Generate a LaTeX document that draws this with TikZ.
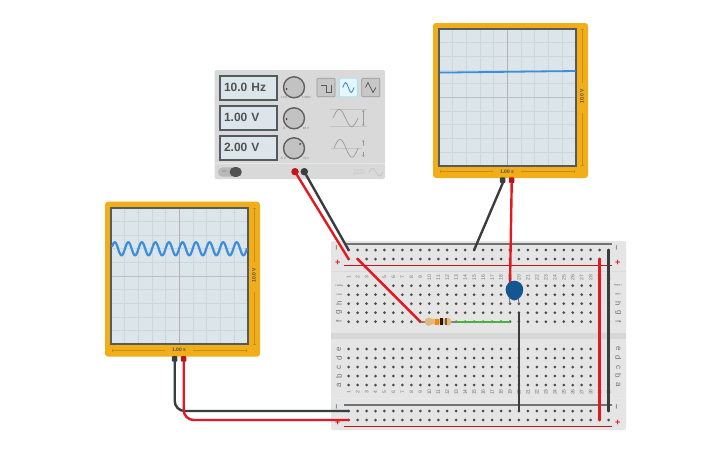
\documentclass[tikz,border=0pt]{standalone}
\usepackage{fontspec}
\setmainfont{Liberation Sans}
\usetikzlibrary{shapes, arrows.meta, positioning, matrix, calc}
\definecolor{scopeorange}{HTML}{F2AE18}
\definecolor{scopedim}{HTML}{C48E14}
\definecolor{screenblue}{HTML}{DCE6EA}
\definecolor{screenline}{HTML}{CDD7DB}
\definecolor{framegray}{HTML}{525C60}
\definecolor{tracecolor}{HTML}{3B8EDE}
\definecolor{wirered}{HTML}{E3191F}
\definecolor{wireblack}{HTML}{3A3D3F}
\definecolor{wiregreen}{HTML}{45B53F}
\definecolor{boardgray}{HTML}{E5E5E5}
\definecolor{capblue}{HTML}{14568F}
\definecolor{resistortan}{HTML}{DDBB7C}

\begin{document}
\begin{tikzpicture}[
		x=1pt,y=-1pt,
		holes/.style={
				matrix of nodes,
				inner sep=0pt,
				column sep=5.966pt,
				row sep=6pt,
				nodes={circle,fill=black!70,inner sep=0pt,minimum size=3pt},
				nodes in empty cells,
			},
		redwire/.style={draw=wirered,line width=2.4pt,line cap=round},
		blackwire/.style={draw=wireblack,line width=2.4pt,line cap=round},
		boardlabel/.style={text=black!55,font=\fontsize{5}{5}\selectfont,inner sep=0pt},
		lcd/.style={draw=framegray,line width=2pt,fill=screenblue,minimum width=56.5pt,minimum height=24pt,inner sep=0pt,
				text=black!68,font=\fontsize{12}{12}\selectfont\bfseries,text width=48.5pt,align=left},
		knob/.style={circle,draw=black!62,line width=1.4pt,fill=black!24,minimum size=21pt,inner sep=0pt},
		knobdot/.style={circle,fill=black!75,minimum size=2pt,inner sep=0pt},
		ticklabel/.style={text=black!55,font=\fontsize{3}{3}\selectfont,inner sep=0pt},
		wavebutton/.style={rounded corners=1pt,draw=black!40,line width=.7pt,fill=black!22,minimum width=18pt,minimum height=18.5pt,inner sep=0pt},
		scopepin/.style={rounded corners=.8pt,minimum width=5.5pt,minimum height=5.5pt,inner sep=0pt},
		dimline/.style={draw=scopedim,line width=.6pt},
		oscope/.pic={
			\fill[scopeorange,rounded corners=3pt] (0,0) rectangle (155,155);
			\node[draw=framegray,line width=2pt,fill=screenblue,minimum size=136.7pt,inner sep=0pt] (-screen) at (74.35,74.35) {};
			\foreach \k in {1,2,3,4,6,7,8,9} {
				\draw[screenline,line width=.6pt] ({6+13.67*\k},7) -- ({6+13.67*\k},141.7);
				\draw[screenline,line width=.6pt] (7,{6+13.67*\k}) -- (141.7,{6+13.67*\k});
			}
			\draw[black!30,line width=.9pt] (74.35,7) -- (74.35,141.7);
			\draw[screenline!90!black,line width=.8pt] (7,74.35) -- (141.7,74.35);
			\node[rotate=90,text=black!70,font=\fontsize{5}{5}\selectfont\bfseries,inner sep=0pt] (-vlabel) at (149,73.5) {10.0 V};
			\node[text=black!70,font=\fontsize{5}{5}\selectfont\bfseries,inner sep=0pt] (-slabel) at (74,148.3) {1.00 s};
			\draw[dimline,{Bar[width=3pt]}-] (149,6) -- (149,60);
			\draw[dimline,-{Bar[width=3pt]}] (149,90) -- (149,142.7);
			\draw[dimline,{Bar[width=3pt]}-] (7,148.3) -- (60,148.3);
			\draw[dimline,-{Bar[width=3pt]}] (88,148.3) -- (142,148.3);
			\node[scopepin,fill=wireblack] (-blackpin) at (69.7,157.2) {};
			\node[scopepin,fill=wirered!80!black] (-redpin) at (78.7,157.2) {};
		}
	]
	\useasboundingbox (0,0) rectangle (725,453);
	\fill[white] (0,0) rectangle (725,453);

	\fill[boardgray,rounded corners=2pt] (331,241) rectangle (626,430);
	\fill[black!14] (331,271) rectangle (626,272);
	\fill[black!9] (331,397.5) rectangle (626,398.5);
	\fill[black!16] (331,333) rectangle (626,339);

	\draw[black!55,line width=1.2pt] (344,244) -- (612,244);
	\draw[wirered!85!black,line width=.9pt] (344,265.3) -- (612,265.3);
	\draw[black!55,line width=1.2pt] (344,405) -- (612,405);
	\draw[wirered!85!black,line width=.9pt] (344,426.7) -- (612,426.7);

	\matrix[holes] (toprail) at (478.6,254.5) {
		& & & & & & & & & & & & & & & & & & & & & & & & & & & & & \\
		& & & & & & & & & & & & & & & & & & & & & & & & & & & & & \\
	};
	\matrix[holes] (upper) at (478.6,303.7) {
		& & & & & & & & & & & & & & & & & & & & & & & & & & & & & \\
		& & & & & & & & & & & & & & & & & & & & & & & & & & & & & \\
		& & & & & & & & & & & & & & & & & & & & & & & & & & & & & \\
		& & & & & & & & & & & & & & & & & & & & & & & & & & & & & \\
		& & & & & & & & & & & & & & & & & & & & & & & & & & & & & \\
	};
	\matrix[holes] (lower) at (478.6,367) {
		& & & & & & & & & & & & & & & & & & & & & & & & & & & & & \\
		& & & & & & & & & & & & & & & & & & & & & & & & & & & & & \\
		& & & & & & & & & & & & & & & & & & & & & & & & & & & & & \\
		& & & & & & & & & & & & & & & & & & & & & & & & & & & & & \\
		& & & & & & & & & & & & & & & & & & & & & & & & & & & & & \\
	};
	\matrix[holes] (botrail) at (478.6,415.5) {
		& & & & & & & & & & & & & & & & & & & & & & & & & & & & & \\
		& & & & & & & & & & & & & & & & & & & & & & & & & & & & & \\
	};

	\foreach \c in {1,...,30} {
		\node[boardlabel,rotate=90] (uppernum\c) at (upper-1-\c |- 0,277.5) {\c};
		\node[boardlabel,rotate=90] (lowernum\c) at (lower-5-\c |- 0,392) {\c};
	}
	\foreach \r/\l in {1/j,2/i,3/h,4/g,5/f} {
		\node[boardlabel,rotate=90,font=\fontsize{8}{8}\selectfont] (upperleft\l) at (339,0 |- upper-\r-1) {\l};
		\node[boardlabel,rotate=-90,font=\fontsize{8}{8}\selectfont] (upperright\l) at (618.3,0 |- upper-\r-1) {\l};
	}
	\foreach \r/\l in {1/e,2/d,3/c,4/b,5/a} {
		\node[boardlabel,rotate=90,font=\fontsize{8}{8}\selectfont] (lowerleft\l) at (339,0 |- lower-\r-1) {\l};
		\node[boardlabel,rotate=-90,font=\fontsize{8}{8}\selectfont] (lowerright\l) at (618.3,0 |- lower-\r-1) {\l};
	}
	\foreach \x/\s in {337.7/l,617.7/r} {
		\node[boardlabel,rotate=90,text=black!70,font=\fontsize{9}{9}\selectfont] (topminus\s) at (\x,247.5) {−};
		\node[boardlabel,text=wirered,font=\fontsize{9}{9}\selectfont\bfseries] (topplus\s) at (\x,263.3) {+};
		\node[boardlabel,rotate=90,text=black!70,font=\fontsize{9}{9}\selectfont] (botminus\s) at (\x,407.3) {−};
		\node[boardlabel,text=wirered,font=\fontsize{9}{9}\selectfont\bfseries] (botplus\s) at (\x,423.3) {+};
	}

	\fill[black!15,rounded corners=2pt] (214.5,70) rectangle (385,179);
	\draw[black!9,line width=.7pt] (215,163.5) -- (384.5,163.5);

	\node[lcd] (freqlcd) at (248.3,87.8) {10.0 Hz};
	\node[lcd] (amplcd) at (248.3,117.7) {1.00 V};
	\node[lcd] (offsetlcd) at (248.3,147.8) {2.00 V};

	\node[knob] (freqknob) at (294,87.3) {};
	\node[knob] (ampknob) at (294,118.3) {};
	\node[knob] (offsetknob) at (294,148.3) {};
	\node[knobdot] (freqdot) at (286.7,89) {};
	\node[knobdot] (ampdot) at (286.7,119) {};
	\node[knobdot] (offsetdot) at (300,144) {};

	\node[ticklabel] (freqmin) at (284,97.5) {1 Hz};
	\node[ticklabel] (freqmax) at (306.5,97.5) {1 MHz};
	\node[ticklabel] (ampmin) at (284,128) {0};
	\node[ticklabel] (ampmax) at (306,128) {10 V};
	\node[ticklabel] (offsetmin) at (283,158.5) {-5 V};
	\node[ticklabel] (offsetmax) at (306,158.5) {+5 V};

	\node[wavebutton] (squarebutton) at (326,87.5) {};
	\node[wavebutton,draw=cyan!35,fill=white!90!cyan,line width=.9pt] (sinebutton) at (348.3,87.5) {};
	\node[wavebutton] (trianglebutton) at (370.8,87.5) {};
	\draw[black!65,line width=.8pt] (321,85) -- (326,85) -- (326,92.3) -- (331.5,92.3) -- (331.5,85);
	\draw[tracecolor,line width=.9pt] (342.8,87.5) sin (345.6,82.5) cos (348.4,87.5) sin (351.2,92.5) cos (354,87.5);
	\draw[black!65,line width=.8pt] (365.5,87.5) -- (368,82.5) -- (373,92.5) -- (375.8,87.5);

	\draw[black!23,line width=.7pt] (330,109.3) -- (366.7,109.3);
	\draw[black!23,line width=.7pt] (330,126.7) -- (366.7,126.7);
	\draw[black!40,line width=.7pt] (333,118) sin (339.2,109.3) cos (345.5,118) sin (351.7,126.7) cos (358,118);
	\draw[black!40,line width=.6pt,{Stealth[length=2pt,width=2.5pt]}-{Stealth[length=2pt,width=2.5pt]}] (363.3,110) -- (363.3,126);

	\draw[black!23,line width=.7pt] (331,148.3) -- (362,148.3);
	\draw[black!40,line width=.7pt] (334,148.3) sin (340,139.3) cos (346,148.3) sin (352,157.3) cos (358,148.3);
	\draw[black!40,line width=.6pt,-{Stealth[length=2pt,width=2.5pt]}] (363.3,145.5) -- (363.3,140);
	\draw[black!40,line width=.6pt,-{Stealth[length=2pt,width=2.5pt]}] (363.3,151.5) -- (363.3,157);

	\fill[black!28,rounded corners=4.6pt] (218,167.3) rectangle (241.7,176.7);
	\node[ticklabel] (switchtext) at (224.3,172) {on};
	\node[rounded corners=4.6pt,fill=black!68,minimum width=12pt,minimum height=9.6pt,inner sep=0pt] (switchknob) at (235.7,172) {};
	\node[text=black!25,font=\fontsize{3}{3.4}\selectfont,align=center,inner sep=0pt] (genlogo) at (359.5,172) {function\\generator};
	\draw[black!25,line width=.6pt] (369,172) sin (372.5,168) cos (376,172) sin (379.5,176) cos (383,172);

	\node[circle,fill=wirered!85!black,minimum size=7.5pt,inner sep=0pt] (genred) at (295,171.7) {};
	\node[circle,fill=wireblack,minimum size=7.5pt,inner sep=0pt] (genblack) at (304.3,171.7) {};

	\pic (lscope) at (105,201.7) {oscope};
	\pic (rscope) at (433,23) {oscope};

	\draw[tracecolor,line width=2.2pt,line join=round] plot[domain=112:247,samples=220] (\x,{248.8-6.6*cos((\x-128.3)/13.55*360)});
	\draw[tracecolor,line width=1.8pt] (440,72.6) -- (575.5,71);

	\draw[draw=black!50,line width=1.6pt] (upper-5-9.center) -- (upper-5-13.center);
	\draw[draw=wiregreen,line width=2.2pt] (upper-5-13.center) -- (upper-5-19.center);
	\node[rounded corners=1.5pt,fill=resistortan,minimum width=22pt,minimum height=5.5pt,inner sep=0pt] (resistor) at (438.3,321.7) {};
	\fill[resistortan] (428.6,321.7) ellipse (4 and 4.2);
	\fill[resistortan] (448,321.7) ellipse (3.5 and 4);
	\fill[orange!95!yellow] (435,318.5) rectangle (439,325);
	\fill[black!90] (440,318) rectangle (443.3,325.4);
	\fill[brown!70!black] (444.6,318) rectangle (447,325.4);

	\draw[redwire] (genred) -- (toprail-2-1.center);
	\draw[blackwire] (genblack) -- (toprail-1-1.center);
	\draw[redwire] (toprail-2-2.center) -- (upper-5-9.center);
	\draw[blackwire] (rscope-blackpin.south) -- (toprail-1-15.center);
	\draw[redwire] (rscope-redpin.south) -- (upper-1-19.center);
	\draw[blackwire] (upper-4-20.center) -- (botrail-1-20.center);
	\draw[redwire] (toprail-2-29.center) -- (botrail-2-29.center);
	\draw[blackwire] (toprail-1-30.center) -- (botrail-1-30.center);
	\draw[blackwire,rounded corners=10pt] (lscope-blackpin.south) |- (botrail-1-1.center);
	\draw[redwire,rounded corners=10pt] (lscope-redpin.south) |- (botrail-2-1.center);

	\draw[black!50,line width=1pt] (upper-3-19.center) -- (509.3,298);
	\draw[black!50,line width=1pt] (upper-3-20.center) -- (518.3,298);
	\fill[capblue] (505.6,289.5) arc (180:360:8.8) .. controls (523.4,295) and (519,300) .. (514.4,300.5) .. controls (510,300) and (505.6,295) .. (505.6,289.5) -- cycle;
\end{tikzpicture}
\end{document}
